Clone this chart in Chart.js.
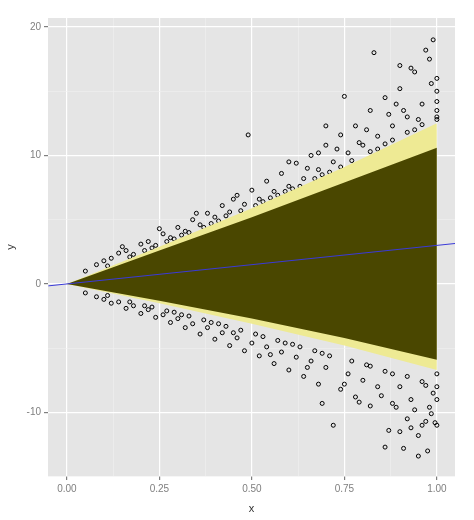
<!DOCTYPE html>
<html><head><meta charset="utf-8">
<script src="https://cdn.jsdelivr.net/npm/chart.js@4"></script>
<style>html,body{margin:0;padding:0;background:#fff}#w{width:474px;height:520px}</style>
</head><body><div id="w"><canvas id="c"></canvas></div>
<script>
const bandX=[0,0.25,0.5,0.75,1];
const outerUpper=[0,2.9,5.9,9.1,12.5];
const outerLower=[0,-1.5,-3.1,-4.8,-6.7];
const innerUpper=[0,2.6,5.2,7.9,10.6];
const innerLower=[0,-1.3,-2.7,-4.2,-5.9];
const fitX=[-0.05,1.05];
const fitY=[-0.15,3.15];
const yTicks=[-10,0,10,20];
const ptsX=[0.05,0.08,0.1,0.12,0.14,0.16,0.18,0.2,0.22,0.24,0.26,0.28,0.3,0.32,0.34,0.36,0.38,0.4,0.42,0.44,0.46,0.48,0.5,0.52,0.54,0.56,0.58,0.6,0.62,0.64,0.66,0.68,0.7,0.72,0.74,0.76,0.78,0.8,0.82,0.84,0.86,0.88,0.9,0.92,0.94,0.96,0.98,0.99,0.985,0.75,0.83,0.49,0.6,0.7,0.9,0.93,0.97,0.95,0.87,0.79,0.68,0.45,0.35,0.25,0.15,0.65,0.73,0.81,0.89,0.91,
1,1,1,1,1,1,1,1,1,1,
0.05,0.08,0.1,0.12,0.14,0.16,0.18,0.2,0.22,0.24,0.26,0.28,0.3,0.32,0.34,0.36,0.38,0.4,0.42,0.44,0.46,0.48,0.5,0.52,0.54,0.56,0.58,0.6,0.62,0.64,0.66,0.68,0.69,0.72,0.7,0.74,0.76,0.78,0.79,0.8,0.82,0.84,0.86,0.87,0.88,0.89,0.9,0.91,0.92,0.93,0.94,0.95,0.95,0.96,0.97,0.975,0.98,0.985,0.99,0.995,0.45,0.55,0.65,0.75,0.85,0.9,0.93,
0.11,0.17,0.23,0.29,0.33,0.37,0.41,0.47,0.51,0.53,0.57,0.61,0.63,0.67,0.71,0.77,0.82,0.86,0.92,0.96,0.43,0.39,0.31,0.21,0.27,0.55,0.59,0.69,0.74,0.84,0.88,0.94,
0.11,0.17,0.23,0.29,0.33,0.37,0.41,0.47,0.51,0.53,0.57,0.61,0.63,0.67,0.71,0.77,0.82,0.86,0.92,0.96,0.43,0.39,0.31,0.21,0.27,0.59,0.69,0.81,0.88,0.97];
const ptsY=[1.0,1.5,1.8,2.0,2.4,2.6,2.3,3.1,3.3,3.0,3.9,3.6,4.4,4.1,5.0,4.6,5.5,5.2,6.1,5.6,6.9,6.2,7.3,6.6,8.0,7.2,8.6,7.6,9.4,8.2,10.0,8.9,10.8,9.5,11.6,10.2,12.3,10.8,13.5,11.5,14.5,12.3,15.2,13.0,16.5,14.0,17.5,19.0,15.6,14.6,18.0,11.6,9.5,12.3,17.0,16.8,18.2,12.8,13.2,11.0,10.2,6.6,5.5,4.3,2.9,9.0,10.5,12.0,14.0,13.5,
12.8,13.5,14.2,15.0,16.0,13.0,-7,-8,-9,-11,
-0.7,-1.0,-1.2,-1.5,-1.4,-1.9,-1.7,-2.3,-2.0,-2.6,-2.4,-3.0,-2.7,-3.4,-3.1,-3.9,-3.4,-4.3,-3.8,-4.8,-4.2,-5.2,-4.6,-5.6,-4.9,-6.2,-5.3,-6.7,-5.7,-7.2,-6.0,-7.8,-9.3,-11.0,-6.5,-8.2,-7.0,-8.8,-9.2,-7.5,-9.5,-8.0,-12.7,-11.4,-9.3,-9.6,-11.5,-12.8,-10.5,-11.2,-9.8,-11.8,-13.4,-11.0,-10.7,-13.0,-9.6,-10.1,-8.5,-10.8,-3.8,-5.5,-6.5,-7.8,-8.7,-8.0,-9.0,
1.4,2.1,2.8,3.5,4.0,4.4,4.9,5.7,6.1,6.4,6.9,7.4,7.6,8.2,8.7,9.6,10.3,10.9,11.8,12.4,5.3,4.7,3.8,2.6,3.3,6.7,7.2,8.5,9.1,10.5,11.2,12.0,
-0.9,-1.4,-1.8,-2.2,-2.5,-2.8,-3.1,-3.6,-3.9,-4.1,-4.4,-4.7,-4.9,-5.2,-5.6,-6.0,-6.4,-6.8,-7.2,-7.6,-3.3,-3.0,-2.4,-1.7,-2.1,-4.6,-5.4,-6.3,-7.0,-7.9];

const zip=(xs,ys)=>xs.map((x,i)=>({x,y:ys[i]}));
const panelBg={id:'bg',beforeDraw(ch){const a=ch.chartArea,c=ch.ctx;c.save();c.fillStyle='#e5e5e5';c.fillRect(a.left,a.top,a.right-a.left,a.bottom-a.top);c.restore();}};
const isMajorX=v=>Math.abs(v*4-Math.round(v*4))<1e-6;
new Chart(document.getElementById('c'),{
 type:'scatter',
 data:{datasets:[
  {type:'line',data:zip(fitX,fitY),borderColor:'#3a3ad8',borderWidth:1,pointRadius:0,order:0},
  {data:zip(ptsX,ptsY),pointStyle:'circle',pointRadius:2,borderColor:'#000',borderWidth:1,backgroundColor:'rgba(0,0,0,0)',order:3},
  {type:'line',data:zip(bandX,innerUpper),fill:'+1',backgroundColor:'#4a4700',borderWidth:0,pointRadius:0,order:1},
  {type:'line',data:zip(bandX,innerLower),fill:false,borderWidth:0,pointRadius:0,order:1},
  {type:'line',data:zip(bandX,outerUpper),fill:'+1',backgroundColor:'#eeea94',borderWidth:0,pointRadius:0,order:2},
  {type:'line',data:zip(bandX,outerLower),fill:false,borderWidth:0,pointRadius:0,order:2}
 ]},
 plugins:[panelBg],
 options:{responsive:true,maintainAspectRatio:false,animation:false,
  layout:{padding:{top:18,right:19,left:0,bottom:0}},
  plugins:{legend:{display:false},tooltip:{enabled:false}},
  scales:{
   x:{type:'linear',min:-0.051,max:1.049,
    afterBuildTicks(s){s.ticks=[0,0.125,0.25,0.375,0.5,0.625,0.75,0.875,1].map(v=>({value:v}));},
    afterFit(s){s.height=44;},
    ticks:{color:'#7f7f7f',font:{family:'Liberation Sans',size:10},padding:3,autoSkip:false,maxRotation:0,
      callback:v=>isMajorX(v)?v.toFixed(2):''},
    grid:{color:c=>isMajorX(c.tick.value)?'#ffffff':'#f0f0f0',lineWidth:c=>isMajorX(c.tick.value)?1.2:0.6,
      tickColor:c=>isMajorX(c.tick.value)?'#7f7f7f':'rgba(0,0,0,0)',tickLength:4},
    border:{display:false},
    title:{display:true,text:'x',color:'#333',font:{family:'Liberation Sans',size:11},padding:{top:2}}},
   y:{type:'linear',min:-14.95,max:20.7,
    afterBuildTicks(s){s.ticks=[-15,-10,-5,0,5,10,15,20].map(v=>({value:v}));},
    afterFit(s){s.width=48;},
    ticks:{color:'#7f7f7f',font:{family:'Liberation Sans',size:10},padding:3,
      callback:v=>yTicks.includes(v)?String(v):''},
    grid:{color:c=>yTicks.includes(c.tick.value)?'#ffffff':'#f0f0f0',lineWidth:c=>yTicks.includes(c.tick.value)?1.2:0.6,
      tickColor:c=>yTicks.includes(c.tick.value)?'#7f7f7f':'rgba(0,0,0,0)',tickLength:4},
    border:{display:false},
    title:{display:true,text:'y',color:'#333',font:{family:'Liberation Sans',size:11}}}
  }}
});
</script></body></html>
